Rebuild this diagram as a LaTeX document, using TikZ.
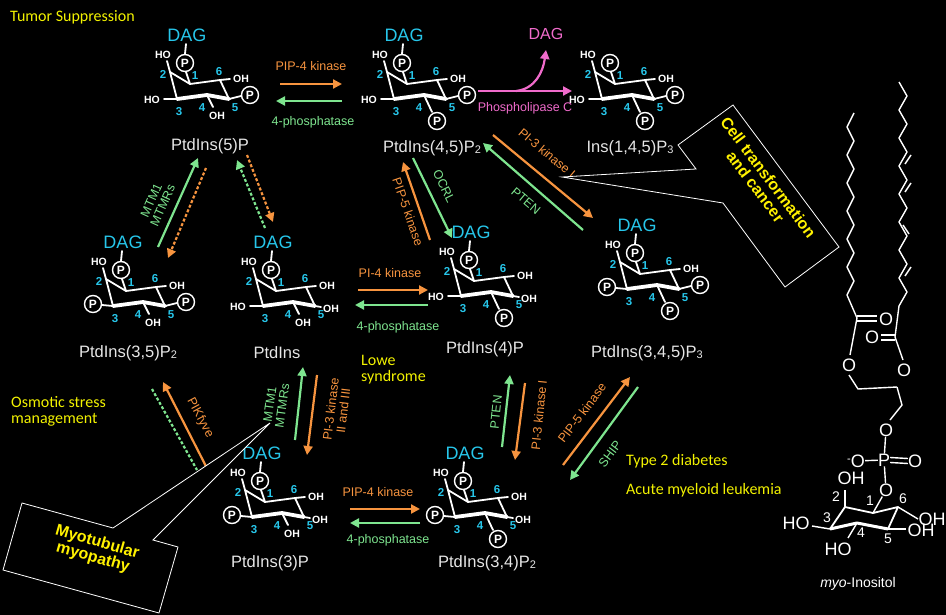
\documentclass[tikz,border=0pt]{standalone}
\usepackage{fontspec}
\setmainfont{Liberation Sans}
\newfontfamily\calib{Carlito}
\usetikzlibrary{arrows.meta}
\definecolor{orng}{HTML}{F7943F}
\definecolor{grn}{HTML}{7EE58F}
\definecolor{cyn}{HTML}{27C6EA}
\definecolor{pnk}{HTML}{F06BCB}
\definecolor{ylw}{HTML}{F2F200}
\definecolor{lbl}{HTML}{E6E6E6}
\newcommand\fs[1]{\fontsize{#1}{#1}\selectfont}
\newcommand\sub[1]{\raisebox{-1pt}{\fs{11}#1}}
\tikzset{
 bond/.style={white,line width=1.8pt,line cap=round,line join=round},
 fbond/.style={white,line width=3.8pt,line cap=round,line join=round},
 pc/.style={circle,draw=white,line width=1.4pt,inner sep=0pt,minimum size=17pt,font=\fs{12}\bfseries,text=white},
 sb/.style={text=white,font=\fs{10.5}\bfseries,inner sep=0pt},
 num/.style={text=cyn,font=\fs{11.5}\bfseries,inner sep=0pt},
 dag/.style={text=cyn,font=\fs{18},inner sep=0pt},
 cname/.style={text=lbl,font=\fs{16.5},inner sep=0pt},
 arr/.style={-{Triangle[length=9pt,width=9pt]},line width=2.2pt},
 darr/.style={-{Triangle[length=9pt,width=9pt]},line width=2.2pt,dash pattern=on 3pt off 2pt},
 enz/.style={font=\fs{12.5},inner sep=0pt},
 note/.style={text=ylw,font=\calib\fs{16},inner sep=0pt,anchor=west},
 lip/.style={white,line width=1.4pt,line join=round},
 lt/.style={text=white,font=\fs{18},inner sep=0pt},
}
% #1 x, #2 y, #3 pos1 (1=DAG,0=P), #4 p3, #5 p4, #6 p5
\newcommand\inos[6]{%
\begin{scope}[shift={(#1,#2)}]
 \draw[bond] (-13,15) -- (-20,-12) -- (0,0) -- (30,-4) -- (39,15);
 \draw[fbond] (-13,15) -- (17,11) -- (39,15);
 \draw[bond] (-20,-12) -- (-23,-23);
 \node[sb] at (-27,-29) {HO};
 \draw[bond] (0,0) -- (-4,-12);
 \node[pc] at (-5,-21) {P};
 \ifnum#3=1 \draw[bond] (-5,-30) -- (-4,-40); \node[dag] at (-3,-49) {DAG};\fi
 \ifnum#4=1 \draw[bond] (-13,15) -- (-24,14); \node[pc] at (-33,13) {P};
 \else \draw[bond] (-13,15) -- (-26,15); \node[sb] at (-38,16) {HO};\fi
 \ifnum#5=1 \draw[bond] (17,11) -- (25,28); \node[pc] at (30,37) {P};
 \else \draw[bond] (17,11) -- (23,23); \node[sb] at (27,32) {OH};\fi
 \ifnum#6=1 \draw[bond] (39,15) -- (51,12); \node[pc] at (60,11) {P};
 \else \draw[bond] (39,15) -- (45,16); \node[sb] at (55,18) {OH};\fi
 \draw[bond] (30,-4) -- (40,-5);
 \node[sb] at (51,-5) {OH};
 \node[num] at (5,-8) {1};
 \node[num] at (-27,-10) {2};
 \node[num] at (-11,28) {3};
 \node[num] at (12,24) {4};
 \node[num] at (45,24) {5};
 \node[num] at (29,-12) {6};
\end{scope}}
\begin{document}
\begin{tikzpicture}[x=1pt,y=-1pt]
\fill[black] (0,0) rectangle (946,615);
\useasboundingbox (0,0) rectangle (946,615);
% rings
\inos{190}{84}{1}{0}{0}{1}
\inos{407}{84}{1}{0}{1}{1}
\inos{615}{84}{0}{0}{1}{1}
\inos{126}{291}{1}{1}{0}{1}
\inos{276}{291}{1}{0}{0}{0}
\inos{474}{281}{1}{0}{1}{0}
\inos{640}{274}{1}{1}{1}{1}
\inos{265}{502}{1}{1}{0}{0}
\inos{468}{502}{1}{1}{1}{0}
% compound names
\node[cname] (n5) at (210,146) {PtdIns(5)P};
\node[cname] (n45) at (432,148) {PtdIns(4,5)P\sub{2}};
\node[cname] (ni) at (630,148) {Ins(1,4,5)P\sub{3}};
\node[cname] (n35) at (128,353) {PtdIns(3,5)P\sub{2}};
\node[cname] (n0) at (277,353) {PtdIns};
\node[cname] (n4) at (485,349) {PtdIns(4)P};
\node[cname] (n345) at (647,353) {PtdIns(3,4,5)P\sub{3}};
\node[cname] (n3) at (270,563) {PtdIns(3)P};
\node[cname] (n34) at (487,563) {PtdIns(3,4)P\sub{2}};
% top arrows
\draw[arr,orng] (280,84) -- (342,84);
\draw[arr,grn] (342,101) -- (276,101);
\node[enz,text=orng] at (311,66) {PIP-4 kinase};
\node[enz,text=grn] at (313,122) {4-phosphatase};
\draw[arr,pnk] (478,91) -- (572,91);
\draw[arr,pnk] (516,91) .. controls (535,89) and (543,72) .. (546,50);
\node[text=pnk,font=\fs{16},inner sep=0pt] at (546,34) {DAG};
\node[enz,text=pnk] at (525,108) {Phospholipase C};
% left diagonals
\draw[arr,grn] (158,247) -- (198,158);
\draw[darr,orng] (206,168) -- (168,258);
\node[enz,text=grn,align=center,rotate=66] at (157,203) {MTM1\\MTMRs};
\draw[darr,orng] (247,155) -- (273,222);
\draw[darr,grn] (265,228) -- (237,160);
% middle
\draw[arr,orng] (358,290) -- (428,290);
\draw[arr,grn] (428,305) -- (355,305);
\node[enz,text=orng] at (390,273) {PI-4 kinase};
\node[enz,text=grn] at (398,327) {4-phosphatase};
\draw[arr,orng] (430,240) -- (403,162);
\node[enz,text=orng,rotate=-71] at (408,212) {PIP-5 kinase};
\draw[arr,grn] (413,158) -- (452,238);
\node[enz,text=grn,rotate=-64] at (444,186) {OCRL};
\draw[arr,orng] (493,135) -- (593,218);
\node[enz,text=orng,rotate=-40] at (547,153) {PI-3 kinase I};
\draw[arr,grn] (583,230) -- (483,143);
\node[enz,text=grn,rotate=-40] at (526,201) {PTEN};
% bottom left
\draw[arr,orng] (213,480) -- (163,382);
\node[enz,text=orng,rotate=-62] at (200,418) {PIKfyve};
\draw[grn,line width=2.2pt,dash pattern=on 3pt off 2pt] (152,389) -- (197,470);
\draw[arr,grn] (295,440) -- (303,367);
\node[enz,text=grn,align=center,rotate=82] at (276,405) {MTM1\\MTMRs};
\draw[arr,orng] (317,375) -- (307,455);
\node[enz,text=orng,align=center,rotate=83] at (337,410) {PI-3 kinase\\II and III};
% bottom middle
\draw[arr,grn] (502,447) -- (510,375);
\node[enz,text=grn,rotate=84] at (496,412) {PTEN};
\draw[arr,orng] (525,383) -- (515,460);
\node[enz,text=orng,rotate=84] at (539,415) {PI-3 kinase I};
\draw[arr,orng] (563,465) -- (630,377);
\node[enz,text=orng,rotate=53] at (582,413) {PIP-5 kinase};
\draw[arr,grn] (638,387) -- (570,480);
\node[enz,text=grn,rotate=53] at (610,454) {SHIP};
\draw[arr,orng] (350,509) -- (420,509);
\draw[arr,grn] (420,523) -- (350,523);
\node[enz,text=orng] at (378,492) {PIP-4 kinase};
\node[enz,text=grn] at (388,540) {4-phosphatase};
% notes
\node[note] at (10,17) {Tumor Suppression};
\node[note,align=left] at (361,370) {Lowe\\syndrome};
\node[note,align=left] at (11,411) {Osmotic stress\\management};
\node[note] at (626,461) {Type 2 diabetes};
\node[note] at (626,490) {Acute myeloid leukemia};
% callouts
\draw[white,line width=0.8pt,fill=black] (22,503) -- (113,528) -- (270,423) -- (153,540) -- (178,547) -- (159,613) -- (3,570) -- cycle;
\node[text=yellow,font=\fs{16}\bfseries,align=center,rotate=-16] (myo) at (95,550) {Myotubular\\myopathy};
\draw[white,line width=0.8pt,fill=black] (733,105) -- (678,145) -- (696,169) -- (562,177) -- (723,203) -- (785,287) -- (839,247) -- cycle;
\node[text=yellow,font=\fs{16}\bfseries,align=center,rotate=-53] (cell) at (762,182) {Cell transformation\\and cancer};
% lipid
\draw[lip] (854,113) \foreach \k in {1,...,13}{ -- ({850.5+3.5*cos(180*\k)},{113+14*\k}) } -- (857,318);
\draw[lip] (899,82) \foreach \k in {1,...,16}{ -- ({903-4*cos(180*\k)},{82+14*\k}) } -- (895,337);
\foreach \kk in {5,7,10,13}{\pgfmathsetmacro\yy{82+14*\kk}
 \ifodd\kk \draw[lip] (911,\yy+3) -- (905,\yy+12); \else \draw[lip] (903,\yy+3) -- (909,\yy+12);\fi}
\draw[lip] (857,316) -- (877,316); \draw[lip] (857,321) -- (877,321);
\node[lt] (o1) at (886,319) {O};
\draw[lip] (857,318) -- (850,355);
\node[lt] (o2) at (849,365) {O};
\draw[lip] (849,375) -- (858,389) -- (897,387);
\draw[lip] (895,335) -- (881,335); \draw[lip] (895,340) -- (881,340);
\node[lt] (o3) at (872,337) {O};
\draw[lip] (895,337) -- (903,360);
\node[lt] (o4) at (904,370) {O};
\draw[lip] (897,387) -- (902,405) -- (890,420);
\node[lt] (o5) at (886,430) {O};
\node[lt] (p) at (884,460) {P};
\node[lt] (om) at (856,461) {\raisebox{5pt}{\fs{11}-}O};
\node[lt] (o6) at (915,461) {O};
\node[lt] (o7) at (886,490) {O};
\draw[lip] (o5) -- (p); \draw[lip] (p) -- (om); \draw[lip] (p) -- (o7);
\draw[lip] ([yshift=-2.5pt]p.east) -- ([yshift=-2.5pt]o6.west);
\draw[lip] ([yshift=2.5pt]p.east) -- ([yshift=2.5pt]o6.west);
\draw[lip] (o7) -- (873,513);
\draw[lip,line width=1.8pt] (830,529) -- (845,507) -- (873,513) -- (898,507) -- (888,529);
\draw[lip,line width=3pt] (830,529) -- (857,523) -- (888,529);
\draw[lip] (845,507) -- (845,490);
\node[lt] at (851,478) {OH};
\draw[lip] (830,529) -- (812,526); \node[lt] at (796,523) {HO};
\draw[lip] (857,523) -- (848,538); \node[lt] at (838,549) {HO};
\draw[lip] (888,529) -- (906,529); \node[lt] at (921,530) {OH};
\draw[lip] (898,507) -- (918,519); \node[lt] at (932,519) {OH};
\foreach \t/\px/\py in {2/836/497,1/870/501,6/903/499,3/827/518,4/861/533,5/888/539}
 \node[text=white,font=\fs{14},inner sep=0pt] at (\px,\py) {\t};
\node[text=white,font=\fs{14},inner sep=0pt] at (858,584) {\textit{myo}-Inositol};
\end{tikzpicture}
\end{document}
